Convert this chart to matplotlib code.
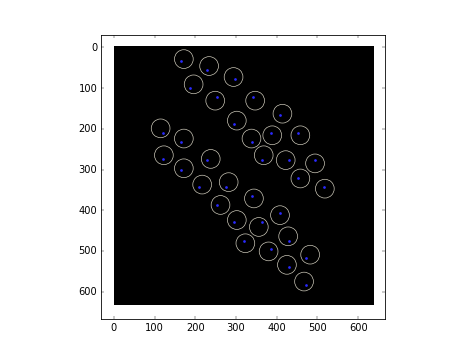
import numpy as np
import matplotlib
matplotlib.use('Agg')
import matplotlib.pyplot as plt
from matplotlib.patches import Circle

plt.style.use('classic')

# image size (rows, cols)
img_h = 634
img_w = 638

# circle centres (x, y) in image pixels
circle_x = [172, 234, 294, 196, 249, 347, 414, 302, 115, 172, 338, 389, 458,
            123, 238, 368, 422, 494, 172, 458, 217, 282, 518, 344, 262, 408,
            302, 356, 428, 323, 380, 482, 425, 467]
circle_y = [29, 46, 73, 91, 131, 131, 163, 180, 199, 224, 224, 216, 216,
            265, 274, 265, 277, 285, 297, 322, 337, 331, 347, 371, 387, 412,
            424, 441, 464, 481, 501, 509, 534, 575]
radius = 23

# detected points
dot_x = [165, 230, 297, 186, 253, 341, 408, 296, 121, 164, 340, 386, 452,
         121, 230, 363, 430, 494, 164, 452, 209, 275, 517, 340, 253, 408,
         296, 363, 430, 319, 385, 471, 430, 472]
dot_y = [34, 56, 78, 100, 123, 123, 167, 189, 211, 233, 233, 211, 211,
         275, 276, 276, 277, 276, 300, 320, 342, 342, 342, 364, 386, 407,
         429, 428, 475, 475, 495, 517, 539, 583]

fig = plt.figure(figsize=(8, 6), dpi=59.25)
ax = fig.add_subplot(111)

img = np.zeros((img_h, img_w))
ax.imshow(img, cmap='gray', vmin=0, vmax=1, interpolation='nearest')

for cx, cy in zip(circle_x, circle_y):
    ax.add_patch(Circle((cx, cy), radius, fill=False, edgecolor='#d6d2c2', linewidth=0.8))

ax.plot(dot_x, dot_y, 'o', color='#2a2aff', markersize=3.3, markeredgewidth=0)

ax.set_xlim(-32, 666)
ax.set_ylim(668, -30)
ax.set_aspect('equal')
ax.set_xticks([0, 100, 200, 300, 400, 500, 600])
ax.set_yticks([0, 100, 200, 300, 400, 500, 600])

plt.savefig('out.png', dpi=59.25)
